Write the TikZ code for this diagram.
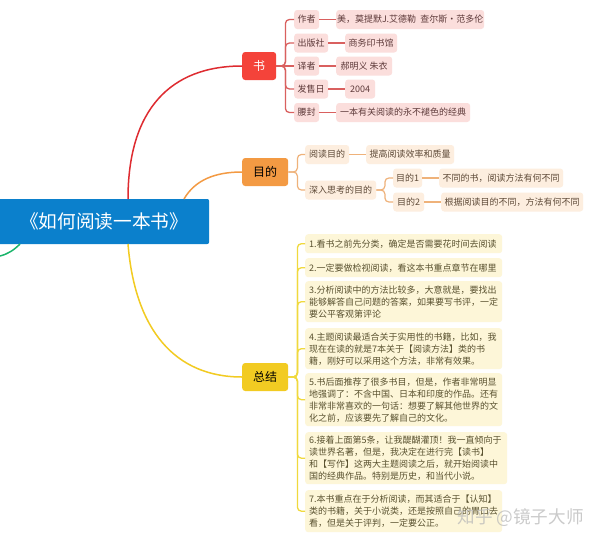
\documentclass[tikz,border=0pt]{standalone}
\usepackage{fontspec}
\setmainfont{Noto Sans CJK SC}
\definecolor{rootblue}{HTML}{0B80CC}
\definecolor{shured}{HTML}{F4433A}
\definecolor{shucurve}{HTML}{DE2B30}
\definecolor{shuleaf}{HTML}{FBDEDC}
\definecolor{shuline}{HTML}{D9605F}
\definecolor{shutext}{HTML}{5E3A3A}
\definecolor{mdorange}{HTML}{F39A43}
\definecolor{mdleaf}{HTML}{FDEEDF}
\definecolor{mdline}{HTML}{EFB27A}
\definecolor{mdtext}{HTML}{5E4A38}
\definecolor{zjyellow}{HTML}{F2CB22}
\definecolor{zjleaf}{HTML}{FDF6D8}
\definecolor{zjline}{HTML}{F0D93D}
\definecolor{zjtext}{HTML}{5A5230}
\definecolor{greenline}{HTML}{1AB56B}
\tikzset{
  boxbase/.style={rectangle,rounded corners=3pt,inner xsep=0pt,inner ysep=0pt,anchor=west,align=center,minimum height=19pt},
  single/.style={text height=7.5pt,text depth=1.5pt,font=\fontsize{9}{12}\selectfont},
  rootbox/.style={rectangle,rounded corners=2pt,fill=rootblue,text=white,inner sep=0pt,minimum width=214pt,minimum height=45pt,anchor=west,font=\fontsize{18.7}{20}\selectfont},
  mainbox/.style={rectangle,rounded corners=3pt,inner sep=0pt,minimum height=28pt,anchor=west,font=\fontsize{12}{14}\selectfont},
  shuitem/.style={boxbase,single,fill=shuleaf,text=shutext},
  mditem/.style={boxbase,single,fill=mdleaf,text=mdtext},
  zjitem/.style={boxbase,fill=zjleaf,text=zjtext,anchor=north west,align=left,inner xsep=4pt,font=\fontsize{9}{12}\selectfont},
  shulink/.style={draw=shuline,line width=1.3pt,rounded corners=4pt},
  mdlink/.style={draw=mdline,line width=1.2pt,rounded corners=4pt},
  zjlink/.style={draw=zjline,line width=1.3pt,rounded corners=4pt},
  bigcurve/.style={line width=1.5pt},
  watermark/.style={text=gray!55,opacity=.75,anchor=west,font=\fontsize{17.6}{20}\selectfont}
}
\begin{document}
\begin{tikzpicture}[x=1pt,y=-1pt]
\useasboundingbox (0,0) rectangle (600,541);
\fill[white] (0,0) rectangle (600,541);

% main nodes
\node[rootbox] (root) at (-5,221.5) {\hspace{4pt}《如何阅读一本书》};
\node[mainbox,fill=shured,text=white,minimum width=34pt] (shu) at (242,66) {书};
\node[mainbox,fill=mdorange,text=black,minimum width=46pt] (mudi) at (242,172) {目的};
\node[mainbox,fill=zjyellow,text=black,minimum width=46pt] (zongjie) at (242,377) {总结};

% book branch
\node[shuitem,minimum width=25pt] (a1) at (294,19.5) {作者};
\node[shuitem,minimum width=148pt] (a2) at (336,19.5) {美，莫提默J.艾德勒\ \ 查尔斯·范多伦};
\node[shuitem,minimum width=34pt] (b1) at (294,43) {出版社};
\node[shuitem,minimum width=52pt] (b2) at (345,43) {商务印书馆};
\node[shuitem,minimum width=25pt] (c1) at (294,66) {译者};
\node[shuitem,minimum width=56pt] (c2) at (336,66) {郝明义 朱衣};
\node[shuitem,minimum width=34pt] (d1) at (294,89) {发售日};
\node[shuitem,minimum width=30pt] (d2) at (345,89) {2004};
\node[shuitem,minimum width=25pt] (e1) at (294,112.5) {腰封};
\node[shuitem,minimum width=134pt] (e2) at (336,112.5) {一本有关阅读的永不褪色的经典};

% purpose branch
\node[mditem,minimum width=44pt] (f1) at (305,154.5) {阅读目的};
\node[mditem,minimum width=88pt] (f2) at (366,154.5) {提高阅读效率和质量};
\node[mditem,minimum width=71pt] (g1) at (305,190) {深入思考的目的};
\node[mditem,minimum width=29pt] (h1) at (393,178) {目的1};
\node[mditem,minimum width=124pt] (h2) at (439,178) {不同的书，阅读方法有何不同};
\node[mditem,minimum width=31pt] (i1) at (393,202) {目的2};
\node[mditem,minimum width=142pt] (i2) at (441,202) {根据阅读目的不同，方法有何不同};

% summary branch
\node[zjitem,text width=189pt,minimum height=19pt] (z1) at (305,234) {1.看书之前先分类，确定是否需要花时间去阅读};
\node[zjitem,text width=189pt,minimum height=19pt] (z2) at (305,258) {2.一定要做检视阅读，看这本书重点章节在哪里};
\node[zjitem,text width=189pt,minimum height=41pt] (z3) at (305,281) {3.分析阅读中的方法比较多，大意就是，要找出\\能够解答自己问题的答案，如果要写书评，一定\\要公平客观第评论};
\node[zjitem,text width=189pt,minimum height=41pt] (z4) at (305,328) {4.主题阅读最适合关于实用性的书籍，比如，我\\现在在读的就是7本关于【阅读方法】类的书\\籍，刚好可以采用这个方法，非常有效果。};
\node[zjitem,text width=189pt,minimum height=53pt] (z5) at (305,373) {5.书后面推荐了很多书目，但是，作者非常明显\\地强调了：不含中国、日本和印度的作品。还有\\非常非常喜欢的一句话：想要了解其他世界的文\\化之前，应该要先了解自己的文化。};
\node[zjitem,text width=194pt,minimum height=52pt] (z6) at (305,432) {6.接着上面第5条，让我醍醐灌顶！我一直倾向于\\读世界名著，但是，我决定在进行完【读书】\\和【写作】这两大主题阅读之后，就开始阅读中\\国的经典作品。特别是历史，和当代小说。};
\node[zjitem,text width=189pt,minimum height=42pt] (z7) at (305,490) {7.本书重点在于分析阅读，而其适合于【认知】\\类的书籍，关于小说类，还是按照自己的胃口去\\看，但是关于评判，一定要公正。};

% watermark
\node[watermark] (wm) at (454,518) {知乎 @镜子大师};

% big curves from the root
\coordinate (rt1) at (128,199);
\coordinate (rt2) at (184,199);
\coordinate (rb1) at (128,244);
\coordinate (rb2) at (20,244);
\coordinate (gend) at (0,256);
\draw[bigcurve,draw=shucurve] (rt1) .. controls (128,110) and (170,66) .. (shu.west);
\draw[bigcurve,draw=mdorange] (rt2) .. controls (195,180) and (215,172) .. (mudi.west);
\draw[bigcurve,draw=zjyellow] (rb1) .. controls (135,330) and (175,377) .. (zongjie.west);
\draw[bigcurve,draw=greenline] (rb2) .. controls (14,250) and (8,254) .. (gend);

% book links
\foreach \n in {a1,b1,d1,e1}{\draw[shulink] (shu.east) -- ++(9,0) |- (\n.west);}
\draw[shulink] (shu.east) -- (c1.west);
\draw[shulink] (a1.east) -- (a2.west);
\draw[shulink] (b1.east) -- (b2.west);
\draw[shulink] (c1.east) -- (c2.west);
\draw[shulink] (d1.east) -- (d2.west);
\draw[shulink] (e1.east) -- (e2.west);

% purpose links
\foreach \n in {f1,g1}{\draw[mdlink] (mudi.east) -- ++(9,0) |- (\n.west);}
\draw[mdlink] (f1.east) -- (f2.west);
\foreach \n in {h1,i1}{\draw[mdlink] (g1.east) -- ++(8.5,0) |- (\n.west);}
\draw[mdlink] (h1.east) -- (h2.west);
\draw[mdlink] (i1.east) -- (i2.west);

% summary links
\foreach \n in {z1,z2,z3,z4,z5,z6,z7}{\draw[zjlink] (zongjie.east) -- ++(9,0) |- (\n.west);}
\end{tikzpicture}
\end{document}
